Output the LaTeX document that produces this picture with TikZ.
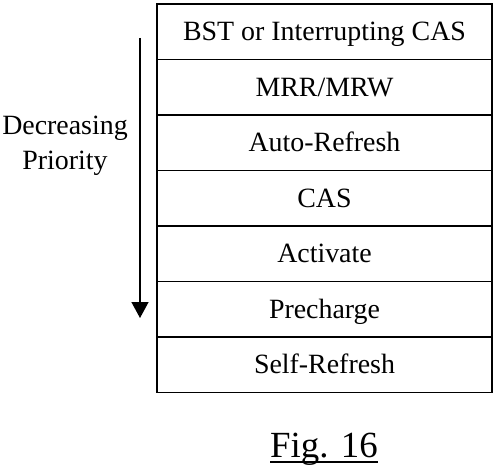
\documentclass[tikz,border=0pt]{standalone}
\usepackage{fontspec}
\setmainfont{Liberation Serif}
\usetikzlibrary{arrows.meta,positioning}

\tikzset{
	prio/.style = {draw, line width=1.5bp, minimum width=335bp, minimum height=55.5bp,
		inner sep=0pt, outer sep=0pt, text height=24bp, text depth=6bp,
		font=\fontsize{28}{34}\selectfont},
}

\begin{document}
\begin{tikzpicture}[x=1bp,y=-1bp]
	\useasboundingbox (0,0) rectangle (498,469);

	\node[prio] (bst) at (324.5,31.75) {BST or Interrupting CAS};
	\node[prio, below=0pt of bst] (mrr) {MRR/MRW};
	\node[prio, below=0pt of mrr] (aref) {Auto-Refresh};
	\node[prio, below=0pt of aref] (cas) {CAS};
	\node[prio, below=0pt of cas] (act) {Activate};
	\node[prio, below=0pt of act] (pre) {Precharge};
	\node[prio, below=0pt of pre] (sref) {Self-Refresh};

	% priority arrow
	\coordinate (arrtop) at (140,38);
	\coordinate (arrtip) at (140,318);
	\draw[line width=1.5bp, -{Triangle[length=16bp,width=17bp]}] (arrtop) -- (arrtip);
	\node[align=center, font=\fontsize{28}{35}\selectfont] (dec) at (65,146)
		{Decreasing\\Priority};

	% figure caption
	\node[anchor=base, inner sep=0pt, font=\fontsize{37}{42}\selectfont] (fig) at (324,457)
		{Fig. 16};
	\draw[line width=1.5bp] ([yshift=-5bp]fig.base west) -- ([yshift=-5bp]fig.base east);
\end{tikzpicture}
\end{document}
